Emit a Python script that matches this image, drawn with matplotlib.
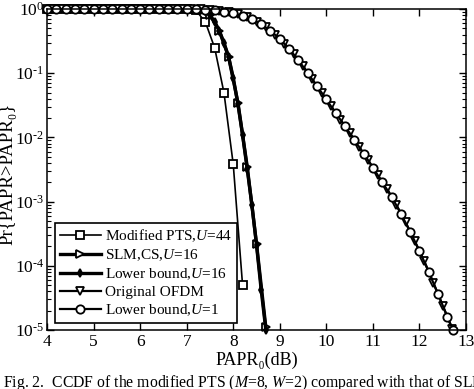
import numpy as np
import matplotlib
matplotlib.use("Agg")
import matplotlib.pyplot as plt
from matplotlib.ticker import FuncFormatter

# DATA------------------------------------------------------------------------------------------------------------------
# Modified PTS, U=44 (squares)
pts_x = [4.0, 4.2, 4.4, 4.6, 4.8, 5.0, 5.2, 5.4, 5.6, 5.8, 6.0, 6.2, 6.4, 6.6, 6.8, 7.0,
         7.2, 7.4, 7.6, 7.8, 8.0, 8.2]
pts_y = [1.0] * 16 + [0.95, 0.63, 0.25, 0.05, 3.8e-3, 5e-5]

# SLM, CS, U=16 (right triangles)
slm_x = [4.1, 4.3, 4.5, 4.7, 4.9, 5.1, 5.3, 5.5, 5.7, 5.9, 6.1, 6.3, 6.5, 6.7, 6.9, 7.1,
         7.3, 7.5, 7.7, 7.9, 8.1, 8.3, 8.5, 8.7]
slm_y = [1.0] * 16 + [0.97, 0.8, 0.46, 0.18, 0.035, 3.5e-3, 2.2e-4, 1.1e-5]

# Lower bound, U=16 (diamonds)
lb16_x = [4.0, 4.1, 4.2, 4.3, 4.4, 4.5, 4.6, 4.7, 4.8, 4.9, 5.0, 5.1, 5.2, 5.3, 5.4, 5.5,
          5.6, 5.7, 5.8, 5.9, 6.0, 6.1, 6.2, 6.3, 6.4, 6.5, 6.6, 6.7, 6.8, 6.9, 7.0, 7.1, 7.2,
          7.3, 7.4, 7.5, 7.6, 7.7, 7.8, 7.9, 8.0, 8.1, 8.2, 8.3, 8.4, 8.5, 8.6, 8.7]
lb16_y = [1.0] * 33 + [0.97, 0.92, 0.8, 0.64, 0.46, 0.3, 0.18, 0.085, 0.033, 0.011,
                       3.2e-3, 9e-4, 2.1e-4, 4.2e-5, 1.0e-5]

# Original OFDM (down triangles)
ofdm_x = [4.1, 4.3, 4.5, 4.7, 4.9, 5.1, 5.3, 5.5, 5.7, 5.9, 6.1, 6.3, 6.5, 6.7, 6.9, 7.1,
          7.3, 7.5, 7.7, 7.9, 8.1, 8.3, 8.5, 8.7, 8.9, 9.1, 9.3, 9.5, 9.7, 9.9, 10.1, 10.3,
          10.5, 10.7, 10.9, 11.1, 11.3, 11.5, 11.7, 11.9, 12.1, 12.3, 12.5, 12.7]
ofdm_y = [1.0] * 16 + [0.985, 0.965, 0.93, 0.885, 0.825, 0.75, 0.64, 0.52, 0.40, 0.29,
                       0.20, 0.13, 0.08, 0.05, 0.031, 0.019, 0.0118, 0.0072, 0.0044,
                       0.0026, 0.0016, 9.0e-4, 4.8e-4, 2.4e-4, 1.2e-4, 5.4e-5, 2.4e-5, 1.05e-5]

# Lower bound, U=1 (circles)
lb1_x = [4.0, 4.2, 4.4, 4.6, 4.8, 5.0, 5.2, 5.4, 5.6, 5.8, 6.0, 6.2, 6.4, 6.6, 6.8, 7.0,
         7.2, 7.4, 7.6, 7.8, 8.0, 8.2, 8.4, 8.6, 8.8, 9.0, 9.2, 9.4, 9.6, 9.8, 10.0, 10.2,
         10.4, 10.6, 10.8, 11.0, 11.2, 11.4, 11.6, 11.8, 12.0, 12.2, 12.4, 12.6, 12.72]
lb1_y = [1.0] * 16 + [0.99, 0.98, 0.95, 0.91, 0.86, 0.79, 0.70, 0.58, 0.46, 0.34, 0.24,
                      0.16, 0.10, 0.063, 0.039, 0.024, 0.015, 0.0092, 0.0056, 0.0034,
                      0.0020, 0.0012, 6.5e-4, 3.4e-4, 1.7e-4, 8e-5, 3.6e-5, 1.6e-5, 1.0e-5]

x_ticks = [4, 5, 6, 7, 8, 9, 10, 11, 12, 13]

# STYLE-----------------------------------------------------------------------------------------------------------------
plt.rcParams['font.family'] = ['Liberation Serif', 'DejaVu Serif']
plt.rcParams['mathtext.fontset'] = 'custom'
plt.rcParams['mathtext.rm'] = 'Liberation Serif'
plt.rcParams['mathtext.it'] = 'Liberation Serif:italic'
plt.rcParams['axes.linewidth'] = 1.1

fig = plt.figure(figsize=(4.74, 3.89), dpi=100)
ax = fig.add_axes([0.0992, 0.1517, 0.884, 0.825])

common = dict(color='black', clip_on=False, markeredgewidth=1.3)
ax.plot(pts_x, pts_y, marker='s', markersize=5.5, mfc='white', lw=1.2,
        label='Modified PTS,$U$=44', **common)
ax.plot(slm_x, slm_y, marker='>', markersize=6, mfc='white', lw=2.4,
        label='SLM,CS,$U$=16', **common)
ax.plot(lb16_x, lb16_y, marker='d', markersize=4, mfc='black', lw=2.4,
        label='Lower bound,$U$=16', **common)
ax.plot(ofdm_x, ofdm_y, marker='v', markersize=6, mfc='white', lw=1.6,
        label='Original OFDM', **common)
ax.plot(lb1_x, lb1_y, marker='o', markersize=6, mfc='white', lw=1.6,
        label='Lower bound,$U$=1', **common)

ax.set_yscale('log')
ax.set_xlim(4, 13)
ax.set_ylim(1e-5, 1)
ax.set_xticks(x_ticks)
ax.set_xticklabels([str(t) for t in x_ticks])


def decade(v, pos):
    e = int(round(np.log10(v)))
    if e < 0:
        return r'$10^{\text{-}%d}$' % (-e)
    return r'$10^{%d}$' % e


ax.yaxis.set_major_formatter(FuncFormatter(decade))
ax.tick_params(which='both', direction='in', top=True, right=True, labelsize=12.5)
ax.tick_params(which='major', length=5, width=1, pad=3)
ax.tick_params(axis='y', which='major', pad=2)
ax.tick_params(which='minor', length=3, width=0.8)
ax.tick_params(axis='x', which='minor', bottom=False, top=False)

ax.set_xlabel('PAPR\u2080(dB)', fontsize=13, labelpad=1)
ax.set_ylabel('Pr{PAPR>PAPR\u2080}', fontsize=13.5)
ax.yaxis.set_label_coords(-0.074, 0.485)

leg = ax.legend(loc='lower left', bbox_to_anchor=(0.019, 0.022), borderaxespad=0,
                fontsize=11, handlelength=2.7, labelspacing=0.22, handletextpad=0.3,
                borderpad=0.3, fancybox=False, framealpha=1, edgecolor='black')
leg.get_frame().set_linewidth(1.2)

fig.text(0.006, 0.004, r'Fig. 2.  CCDF of the modified PTS ($M$=8, $W$=2) compared with that of SLM',
         fontsize=11.3, ha='left', va='baseline')

plt.savefig('out.png', dpi=100)
